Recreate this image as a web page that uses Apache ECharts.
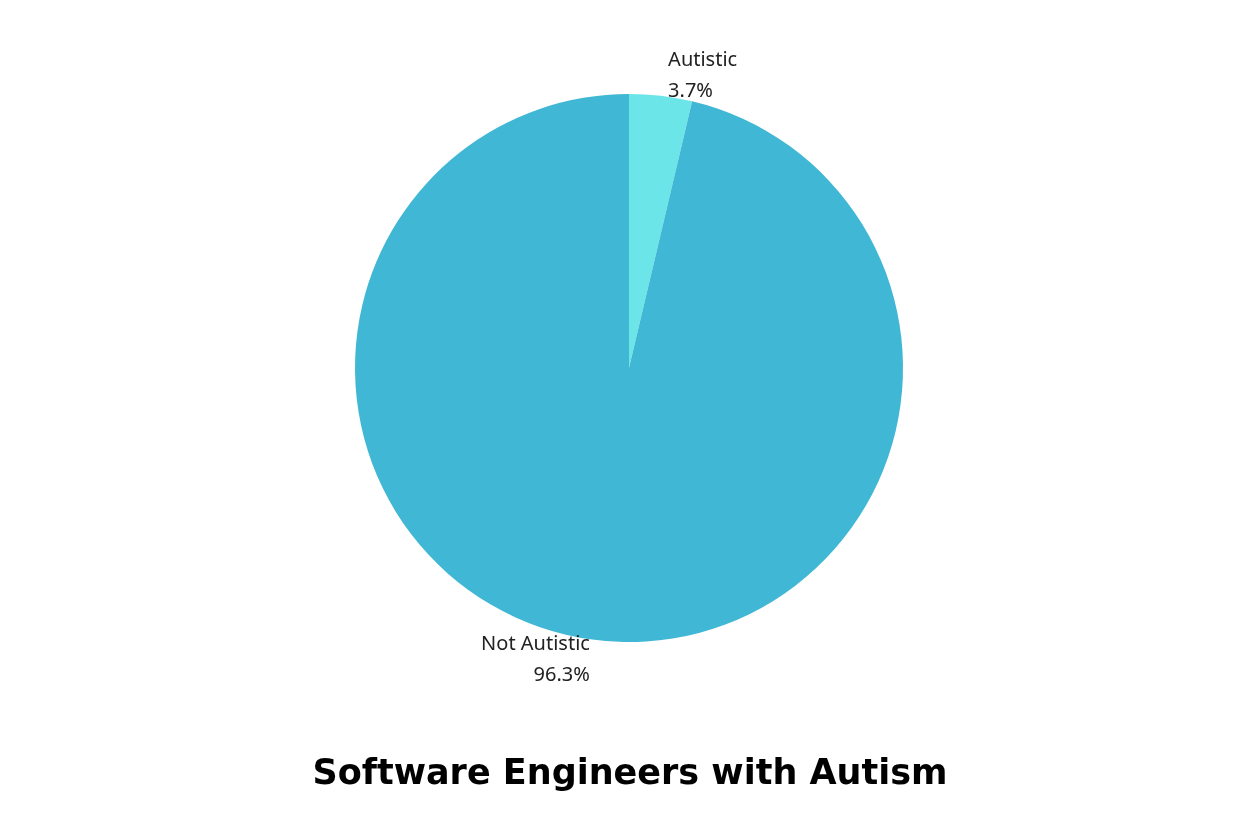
<!DOCTYPE html>
<html>
<head>
<meta charset="utf-8">
<script src="https://cdn.jsdelivr.net/npm/echarts@6/dist/echarts.min.js"></script>
<style>html,body{margin:0;background:#fff}#chart{width:1260px;height:840px}</style>
</head>
<body>
<div id="chart"></div>
<script>
var categories = ['Autistic', 'Not Autistic'];
var values = [3.7, 96.3];
var colors = ['#6ce5e8', '#41b7d6'];

var myChart = echarts.init(document.getElementById('chart'));
myChart.setOption({
  title: {
    text: 'Software Engineers with Autism',
    left: 'center',
    top: 752,
    textStyle: { fontFamily: 'DejaVu Sans', fontWeight: 'bold', fontSize: 35, color: '#000' }
  },
  series: [{
    type: 'pie',
    radius: 274,
    center: [629, 368],
    startAngle: 90,
    clockwise: true,
    label: {
      position: 'outside',
      formatter: function (p) { return p.name + '\n' + p.value + '%'; },
      fontFamily: 'Noto Sans',
      fontSize: 20,
      lineHeight: 31,
      color: '#222',
      align: 'center'
    },
    labelLine: { show: false, length: 20, length2: 0 },
    emphasis: { disabled: true },
    data: categories.map(function (c, i) {
      return { name: c, value: values[i], itemStyle: { color: colors[i] } };
    })
  }]
});
</script>
</body>
</html>
